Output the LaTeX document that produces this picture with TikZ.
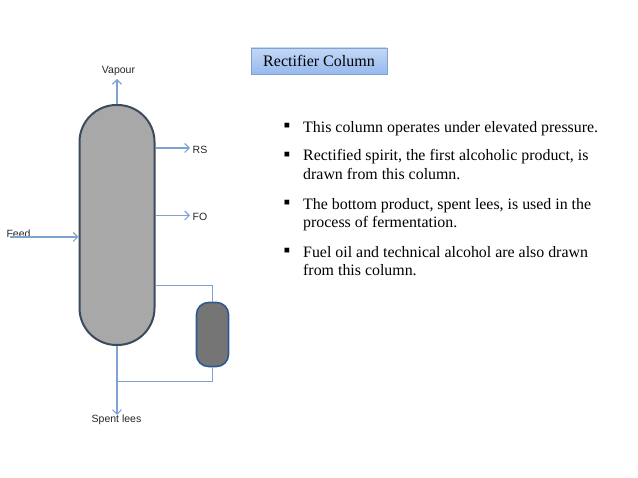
\documentclass[tikz,border=0pt]{standalone}
\usepackage{fontspec}
\setmainfont{Liberation Serif}
\newfontfamily\labelfont{Liberation Sans}
\usetikzlibrary{arrows.meta, positioning, shadows}
\definecolor{linkblue}{HTML}{7FA3D0}
\definecolor{columnedge}{HTML}{3C4A5E}
\definecolor{drumedge}{HTML}{2F5A90}
\definecolor{titletop}{HTML}{C4D8F6}
\definecolor{titlelow}{HTML}{96B9EE}
\tikzset{
  stream/.style={linkblue, line width=1.15pt, -{Straight Barb[length=4.5pt,width=9pt]}},
  link/.style={linkblue, line width=1pt},
  tag/.style={font=\labelfont\fontsize{10.5}{13}\selectfont, text=black!85, inner sep=0pt},
  point/.style={anchor=north west, align=left, inner sep=0pt,
    font=\fontsize{15.9}{18.3}\selectfont},
  dot/.style={anchor=center, inner sep=0pt, font=\fontsize{19}{20}\selectfont}
}
\begin{document}
\begin{tikzpicture}[x=1pt, y=-1pt]
\useasboundingbox (0,0) rectangle (638,478);
% vessels
\node[draw=columnedge, line width=2pt, fill=black!34, rounded corners=37pt,
  minimum width=75pt, minimum height=240pt, inner sep=0pt] (column) at (117,225) {};
\node[draw=drumedge, line width=1.6pt, fill=black!54, rounded corners=12pt,
  minimum width=32pt, minimum height=64pt, inner sep=0pt] (drum) at (212.5,334.5) {};
% labels
\node[tag] (vapour) at (118.5,70.5) {Vapour};
\node[tag] (rs) at (200,149.5) {RS};
\node[tag] (fo) at (200,216.5) {FO};
\node[tag] (feed) at (18.5,233.5) {Feed};
\node[tag] (lees) at (116.5,419.5) {Spent lees};
% free ends
\coordinate (vapourend) at (117,79);
\coordinate (feedstart) at (10,237);
\coordinate (leesend) at (117,415);
\coordinate (rsend) at (190,148);
\coordinate (foend) at (190,215.5);
\coordinate (refluxout) at (column.east |- 0,286);
\coordinate (returnjoin) at (117,382);
% streams
\draw[stream] (column.north) -- (vapourend);
\draw[stream] (column.east |- rsend) -- (rsend);
\draw[stream] (column.east |- foend) -- (foend);
\draw[stream] (feedstart) -- (column.west |- feedstart);
\draw[stream] (column.south) -- (leesend);
\draw[link] (refluxout) -| (drum.north);
\draw[link] (drum.south) |- (returnjoin);
% title
\node[draw=linkblue, top color=titletop, bottom color=titlelow,
  drop shadow={shadow xshift=1pt, shadow yshift=-1.5pt, opacity=.35},
  minimum width=136pt, minimum height=26pt, inner sep=0pt,
  font=\fontsize{16}{20}\selectfont] (title) at (319,61) {Rectifier Column};
% bullet list
\node[dot] (b1) at (287,127) {▪};
\node[point] (p1) at (303,121) {This column operates under elevated pressure.};
\node[dot] (b2) at (287,156) {▪};
\node[point] (p2) at (303,149.5) {Rectified spirit, the first alcoholic product, is\\drawn from this column.};
\node[dot] (b3) at (287,204) {▪};
\node[point] (p3) at (303,198) {The bottom product, spent lees, is used in the\\process of fermentation.};
\node[dot] (b4) at (287,252) {▪};
\node[point] (p4) at (303,246) {Fuel oil and technical alcohol are also drawn\\from this column.};
\end{tikzpicture}
\end{document}
